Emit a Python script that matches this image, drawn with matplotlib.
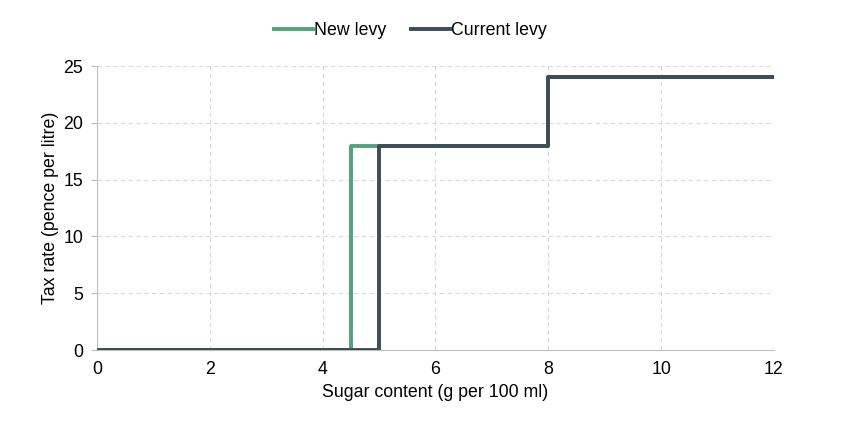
import matplotlib
matplotlib.use("Agg")
import matplotlib.pyplot as plt

# step points: sugar content (g per 100 ml) and tax rate (pence per litre)
new_x = [0, 4.5, 4.5, 8, 8, 12]
new_y = [0, 0, 18, 18, 24, 24]
cur_x = [0, 5, 5, 8, 8, 12]
cur_y = [0, 0, 18, 18, 24, 24]

plt.rcParams['font.family'] = ['Liberation Sans', 'DejaVu Sans']
fs = 12.8

fig = plt.figure(figsize=(8.48, 4.32), dpi=100)
ax = fig.add_axes([0.1144, 0.1898, 0.7983, 0.6574])

ax.plot(new_x, new_y, color='#52a27a', lw=2.8, label='New levy', zorder=3)
ax.plot(cur_x, cur_y, color='#3d4d55', lw=2.8, label='Current levy', zorder=4)

ax.set_xlim(0, 12)
ax.set_ylim(0, 25)
ax.set_xticks(range(0, 13, 2))
ax.set_yticks(range(0, 26, 5))
ax.grid(True, color='#d9d9d9', ls=(0, (4, 3)), lw=0.8)
ax.set_axisbelow(True)
for s in ['top', 'right']:
    ax.spines[s].set_visible(False)
for s in ['left', 'bottom']:
    ax.spines[s].set_color('#bfbfbf')
ax.tick_params(axis='y', length=4, color='#bfbfbf', labelsize=fs, pad=6)
ax.tick_params(axis='x', length=0, labelsize=fs, pad=8)
ax.set_xlabel('Sugar content (g per 100 ml)', fontsize=fs, labelpad=4)
ax.set_ylabel('Tax rate (pence per litre)', fontsize=fs, labelpad=3)

fig.legend(loc='upper center', bbox_to_anchor=(0.484, 0.985), ncol=2, frameon=False,
           fontsize=fs, handlelength=2.2, handletextpad=0.05, columnspacing=1.4)

fig.savefig('out.png', dpi=100)
